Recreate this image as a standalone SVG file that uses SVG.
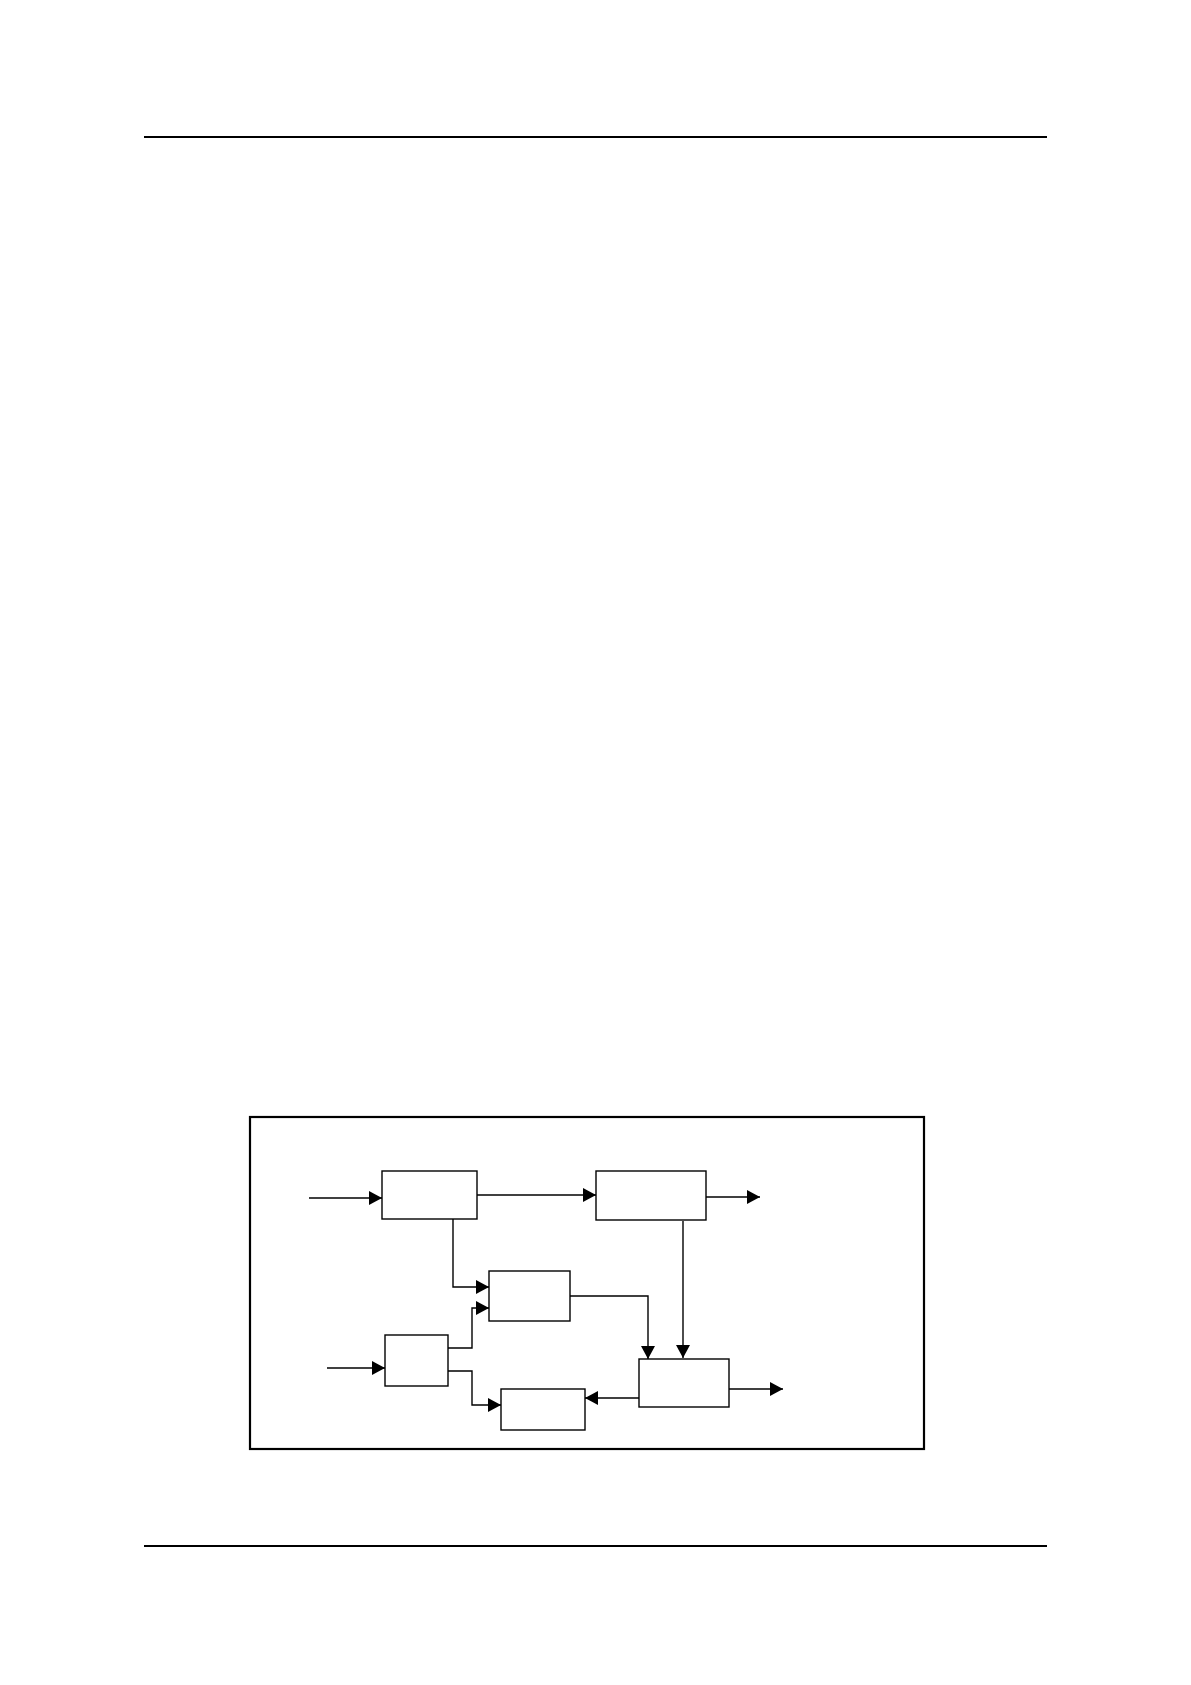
<svg xmlns="http://www.w3.org/2000/svg" width="1191" height="1685" viewBox="0 0 1191 1685">
<style>
.rule{stroke:#000;stroke-width:2;fill:none}
.frame{stroke:#000;stroke-width:2.2;fill:none}
.box{stroke:#000;stroke-width:1.4;fill:#fff}
.c{stroke:#000;stroke-width:1.4;fill:none;marker-end:url(#ah)}
</style>
<defs>
<marker id="ah" markerUnits="userSpaceOnUse" markerWidth="14" markerHeight="14" viewBox="0 0 14 14" refX="13" refY="7" orient="auto">
<path d="M0,0 L13,7 L0,14 Z" fill="#000"/>
</marker>
</defs>
<rect width="1191" height="1685" fill="#fff"/>
<line class="rule" x1="144" y1="137" x2="1047" y2="137"/>
<line class="rule" x1="144" y1="1546" x2="1047" y2="1546"/>
<rect class="frame" x="250" y="1117" width="674" height="332"/>
<g id="nodes">
<g id="nodeA"><rect class="box" x="382" y="1171" width="95" height="48"/></g>
<g id="nodeB"><rect class="box" x="596" y="1171" width="110" height="49"/></g>
<g id="nodeC"><rect class="box" x="489" y="1271" width="81" height="50"/></g>
<g id="nodeD"><rect class="box" x="385" y="1335" width="63" height="51"/></g>
<g id="nodeE"><rect class="box" x="639" y="1359" width="90" height="48"/></g>
<g id="nodeF"><rect class="box" x="501" y="1389" width="84" height="41"/></g>
</g>
<g id="connectors">
<path class="c" d="M309,1198 H382"/>
<path class="c" d="M477,1195 H596"/>
<path class="c" d="M706,1197 H760"/>
<path class="c" d="M683,1221 V1358"/>
<path class="c" d="M453,1219 V1287 H489"/>
<path class="c" d="M448,1348 H472 V1308 H489"/>
<path class="c" d="M327,1368 H385"/>
<path class="c" d="M448,1371 H472 V1405 H501"/>
<path class="c" d="M570,1296 H648 V1359"/>
<path class="c" d="M639,1398 H585"/>
<path class="c" d="M729,1389 H783"/>
</g>
</svg>
